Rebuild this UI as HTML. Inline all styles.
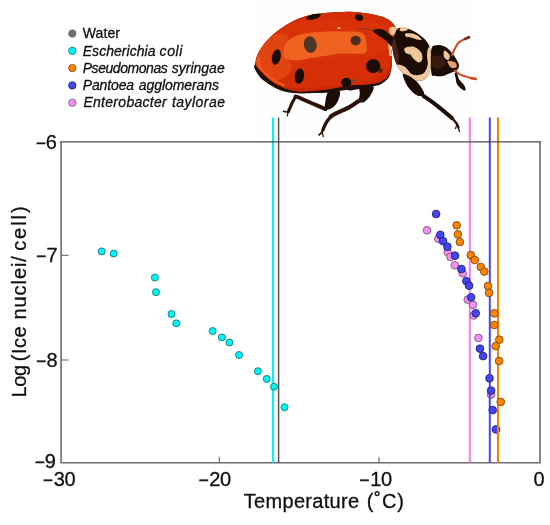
<!DOCTYPE html>
<html><head><meta charset="utf-8"><title>Ice nucleation</title>
<style>
html,body{margin:0;padding:0;background:#fff;}
svg{display:block;}
text{font-family:"Liberation Sans",sans-serif;fill:#111;stroke:#111;stroke-width:0.3px;}
</style></head><body>
<svg width="550" height="525" viewBox="0 0 550 525">
<rect width="550" height="525" fill="#ffffff"/>
<rect x="254" y="0" width="223" height="139" fill="#fefefe"/>
<path d="M61.1,141.4V462.8H540.0V141.4" fill="none" stroke="#6c6c6c" stroke-width="1.6"/>
<line x1="61.1" x2="68.6" y1="255.3" y2="255.3" stroke="#5a5a5a" stroke-width="1"/>
<line x1="61.1" x2="68.6" y1="360.0" y2="360.0" stroke="#5a5a5a" stroke-width="1"/>
<line x1="219.3" x2="219.3" y1="456.8" y2="462.8" stroke="#5a5a5a" stroke-width="1"/>
<line x1="379.0" x2="379.0" y1="456.8" y2="462.8" stroke="#5a5a5a" stroke-width="1"/>
<line x1="272.9" x2="272.9" y1="117.6" y2="462.8" stroke="#00f2f2" stroke-width="2.0"/>
<line x1="278.6" x2="278.6" y1="117.6" y2="462.8" stroke="#555555" stroke-width="1.5"/>
<circle cx="101.7" cy="251.4" r="3.50" fill="#00f5f5" stroke="#157878" stroke-width="0.9"/>
<circle cx="113.7" cy="253.5" r="3.50" fill="#00f5f5" stroke="#157878" stroke-width="0.9"/>
<circle cx="154.9" cy="277.6" r="3.50" fill="#00f5f5" stroke="#157878" stroke-width="0.9"/>
<circle cx="156.0" cy="292.2" r="3.50" fill="#00f5f5" stroke="#157878" stroke-width="0.9"/>
<circle cx="171.5" cy="314.0" r="3.50" fill="#00f5f5" stroke="#157878" stroke-width="0.9"/>
<circle cx="176.3" cy="323.4" r="3.50" fill="#00f5f5" stroke="#157878" stroke-width="0.9"/>
<circle cx="212.6" cy="331.0" r="3.50" fill="#00f5f5" stroke="#157878" stroke-width="0.9"/>
<circle cx="221.8" cy="337.4" r="3.50" fill="#00f5f5" stroke="#157878" stroke-width="0.9"/>
<circle cx="229.4" cy="342.5" r="3.50" fill="#00f5f5" stroke="#157878" stroke-width="0.9"/>
<circle cx="239.0" cy="355.0" r="3.50" fill="#00f5f5" stroke="#157878" stroke-width="0.9"/>
<circle cx="257.9" cy="371.2" r="3.50" fill="#00f5f5" stroke="#157878" stroke-width="0.9"/>
<circle cx="266.7" cy="378.9" r="3.50" fill="#00f5f5" stroke="#157878" stroke-width="0.9"/>
<circle cx="274.0" cy="386.7" r="3.50" fill="#00f5f5" stroke="#157878" stroke-width="0.9"/>
<circle cx="284.5" cy="407.2" r="3.50" fill="#00f5f5" stroke="#157878" stroke-width="0.9"/>
<line x1="469.8" x2="469.8" y1="117.6" y2="462.8" stroke="#f07ff0" stroke-width="2.0"/>
<circle cx="427.0" cy="230.3" r="3.85" fill="#f28ff2" stroke="#7a5a7a" stroke-width="0.9"/>
<circle cx="438.3" cy="238.7" r="3.85" fill="#f28ff2" stroke="#7a5a7a" stroke-width="0.9"/>
<circle cx="447.7" cy="252.0" r="3.85" fill="#f28ff2" stroke="#7a5a7a" stroke-width="0.9"/>
<circle cx="450.4" cy="257.0" r="3.85" fill="#f28ff2" stroke="#7a5a7a" stroke-width="0.9"/>
<circle cx="454.8" cy="265.3" r="3.85" fill="#f28ff2" stroke="#7a5a7a" stroke-width="0.9"/>
<circle cx="462.7" cy="273.3" r="3.85" fill="#f28ff2" stroke="#7a5a7a" stroke-width="0.9"/>
<circle cx="467.7" cy="299.6" r="3.85" fill="#f28ff2" stroke="#7a5a7a" stroke-width="0.9"/>
<circle cx="473.0" cy="304.8" r="3.85" fill="#f28ff2" stroke="#7a5a7a" stroke-width="0.9"/>
<circle cx="473.6" cy="315.5" r="3.85" fill="#f28ff2" stroke="#7a5a7a" stroke-width="0.9"/>
<circle cx="478.4" cy="337.9" r="3.85" fill="#f28ff2" stroke="#7a5a7a" stroke-width="0.9"/>
<circle cx="491.1" cy="394.6" r="3.85" fill="#f28ff2" stroke="#7a5a7a" stroke-width="0.9"/>
<line x1="489.8" x2="489.8" y1="117.6" y2="462.8" stroke="#4646f2" stroke-width="2.0"/>
<circle cx="436.1" cy="214.0" r="3.85" fill="#4444f0" stroke="#20207a" stroke-width="0.9"/>
<circle cx="440.3" cy="234.9" r="3.85" fill="#4444f0" stroke="#20207a" stroke-width="0.9"/>
<circle cx="443.0" cy="241.1" r="3.85" fill="#4444f0" stroke="#20207a" stroke-width="0.9"/>
<circle cx="447.4" cy="246.7" r="3.85" fill="#4444f0" stroke="#20207a" stroke-width="0.9"/>
<circle cx="455.0" cy="255.7" r="3.85" fill="#4444f0" stroke="#20207a" stroke-width="0.9"/>
<circle cx="461.4" cy="269.0" r="3.85" fill="#4444f0" stroke="#20207a" stroke-width="0.9"/>
<circle cx="466.4" cy="281.1" r="3.85" fill="#4444f0" stroke="#20207a" stroke-width="0.9"/>
<circle cx="469.1" cy="285.7" r="3.85" fill="#4444f0" stroke="#20207a" stroke-width="0.9"/>
<circle cx="471.1" cy="297.3" r="3.85" fill="#4444f0" stroke="#20207a" stroke-width="0.9"/>
<circle cx="475.7" cy="313.3" r="3.85" fill="#4444f0" stroke="#20207a" stroke-width="0.9"/>
<circle cx="480.0" cy="348.7" r="3.85" fill="#4444f0" stroke="#20207a" stroke-width="0.9"/>
<circle cx="483.1" cy="356.1" r="3.85" fill="#4444f0" stroke="#20207a" stroke-width="0.9"/>
<circle cx="489.5" cy="378.3" r="3.85" fill="#4444f0" stroke="#20207a" stroke-width="0.9"/>
<circle cx="491.1" cy="390.6" r="3.85" fill="#4444f0" stroke="#20207a" stroke-width="0.9"/>
<circle cx="492.7" cy="410.1" r="3.85" fill="#4444f0" stroke="#20207a" stroke-width="0.9"/>
<circle cx="496.0" cy="429.4" r="3.85" fill="#4444f0" stroke="#20207a" stroke-width="0.9"/>
<line x1="498.0" x2="498.0" y1="117.6" y2="462.8" stroke="#f58000" stroke-width="2.0"/>
<circle cx="456.7" cy="225.3" r="3.85" fill="#ff8200" stroke="#7a4a12" stroke-width="0.9"/>
<circle cx="457.9" cy="234.4" r="3.85" fill="#ff8200" stroke="#7a4a12" stroke-width="0.9"/>
<circle cx="459.9" cy="242.0" r="3.85" fill="#ff8200" stroke="#7a4a12" stroke-width="0.9"/>
<circle cx="470.8" cy="255.1" r="3.85" fill="#ff8200" stroke="#7a4a12" stroke-width="0.9"/>
<circle cx="474.8" cy="260.0" r="3.85" fill="#ff8200" stroke="#7a4a12" stroke-width="0.9"/>
<circle cx="480.8" cy="267.0" r="3.85" fill="#ff8200" stroke="#7a4a12" stroke-width="0.9"/>
<circle cx="484.3" cy="271.6" r="3.85" fill="#ff8200" stroke="#7a4a12" stroke-width="0.9"/>
<circle cx="488.0" cy="286.0" r="3.85" fill="#ff8200" stroke="#7a4a12" stroke-width="0.9"/>
<circle cx="489.1" cy="292.9" r="3.85" fill="#ff8200" stroke="#7a4a12" stroke-width="0.9"/>
<circle cx="494.4" cy="313.3" r="3.85" fill="#ff8200" stroke="#7a4a12" stroke-width="0.9"/>
<circle cx="494.3" cy="325.0" r="3.85" fill="#ff8200" stroke="#7a4a12" stroke-width="0.9"/>
<circle cx="499.3" cy="339.7" r="3.85" fill="#ff8200" stroke="#7a4a12" stroke-width="0.9"/>
<circle cx="495.7" cy="346.1" r="3.85" fill="#ff8200" stroke="#7a4a12" stroke-width="0.9"/>
<circle cx="499.1" cy="361.0" r="3.85" fill="#ff8200" stroke="#7a4a12" stroke-width="0.9"/>
<circle cx="500.7" cy="401.9" r="3.85" fill="#ff8200" stroke="#7a4a12" stroke-width="0.9"/>
<line x1="60.3" x2="540.8" y1="141.8" y2="141.8" stroke="#4c4c4c" stroke-width="1.3"/>
<text y="148.7" font-size="20"><tspan x="35.9" y="148.6" font-size="17" stroke-width="0.5">−</tspan><tspan x="45.8" y="148.7">6</tspan></text>
<text y="262.3" font-size="20"><tspan x="36.2" y="262.2" font-size="17" stroke-width="0.5">−</tspan><tspan x="46.6" y="262.3">7</tspan></text>
<text y="367.0" font-size="20"><tspan x="36.2" y="366.9" font-size="17" stroke-width="0.5">−</tspan><tspan x="46.6" y="367.0">8</tspan></text>
<text y="468.3" font-size="20"><tspan x="34.9" y="468.2" font-size="17" stroke-width="0.5">−</tspan><tspan x="44.8" y="468.3">9</tspan></text>
<text y="485.8" font-size="20"><tspan x="43.1" y="485.7" font-size="17" stroke-width="0.5">−</tspan><tspan x="53.7" y="485.8" textLength="22.0" lengthAdjust="spacing">30</tspan></text>
<text y="485.9" font-size="20"><tspan x="198.8" y="485.8" font-size="17" stroke-width="0.5">−</tspan><tspan x="209.2" y="485.9" textLength="22.0" lengthAdjust="spacing">20</tspan></text>
<text y="485.9" font-size="20"><tspan x="359.6" y="485.8" font-size="17" stroke-width="0.5">−</tspan><tspan x="370.2" y="485.9" textLength="22.0" lengthAdjust="spacing">10</tspan></text>
<text x="533.5" y="485.9" font-size="20" text-anchor="start" >0</text>
<text y="508.3" font-size="20"><tspan x="243.80" letter-spacing="0.300">Temperature</tspan> <tspan x="366.70" letter-spacing="0.967">(˚C)</tspan></text>
<g transform="translate(26.3,396) rotate(-90)">
<text y="0.0" font-size="20"><tspan x="-1.60" letter-spacing="-0.350">Log</tspan> <tspan x="34.80" letter-spacing="0.467">(Ice</tspan> <tspan x="76.40" letter-spacing="0.950">nuclei/</tspan> <tspan x="145.20" letter-spacing="1.925">cell)</tspan></text>
</g>
<circle cx="72.3" cy="33.5" r="3.7" fill="#6e6e6e" stroke="#6e6e6e" stroke-width="0.8"/>
<text y="38.4" font-size="14"><tspan x="82.80" letter-spacing="0.075">Water</tspan></text>
<circle cx="72.3" cy="50.8" r="3.7" fill="#00f5f5" stroke="#157878" stroke-width="0.8"/>
<text y="55.5" font-size="14" font-style="italic"><tspan x="82.70" letter-spacing="0.050">Escherichia</tspan> <tspan x="159.50" letter-spacing="0.633">coli</tspan></text>
<circle cx="72.3" cy="68.1" r="3.7" fill="#ff8200" stroke="#7a4a12" stroke-width="0.8"/>
<text y="72.6" font-size="14" font-style="italic"><tspan x="82.70" letter-spacing="-0.440">Pseudomonas</tspan> <tspan x="171.70" letter-spacing="0.014">syringae</tspan></text>
<circle cx="72.3" cy="85.4" r="3.7" fill="#4444f0" stroke="#20207a" stroke-width="0.8"/>
<text y="89.8" font-size="14" font-style="italic"><tspan x="82.70" letter-spacing="-0.117">Pantoea</tspan> <tspan x="138.80" letter-spacing="-0.070">agglomerans</tspan></text>
<circle cx="72.3" cy="102.7" r="3.7" fill="#f28ff2" stroke="#7a5a7a" stroke-width="0.8"/>
<text y="106.9" font-size="14" font-style="italic"><tspan x="83.40" letter-spacing="0.291">Enterobacter</tspan> <tspan x="171.90" letter-spacing="0.471">taylorae</tspan></text>
<g id="bug">
<path d="M255.5,63.0C256.0,60.9 256.1,58.1 257.3,55.2C258.5,52.3 260.7,48.7 262.9,45.7C265.1,42.7 267.5,40.0 270.5,37.1C273.5,34.2 277.2,31.3 281.0,28.6C284.8,25.9 289.3,23.0 293.3,21.0C297.3,19.0 300.4,17.7 304.8,16.4C309.2,15.1 314.9,14.1 320.0,13.4C325.1,12.7 330.1,12.5 335.2,12.2C340.3,11.9 345.4,11.5 350.5,11.7C355.6,11.9 360.8,12.6 365.7,13.3C370.6,14.0 375.8,15.0 379.6,16.1C383.4,17.2 386.3,18.3 388.7,19.8C391.1,21.3 392.6,23.2 394.0,24.9C395.4,26.6 397.1,28.3 397.0,30.2C396.9,32.0 394.5,33.5 393.5,36.0C392.5,38.5 391.1,41.6 390.8,45.0C390.6,48.4 391.9,52.6 392.0,56.4C392.1,60.2 391.9,64.5 391.4,67.9C390.9,71.3 390.3,74.6 389.0,77.0C387.7,79.4 385.5,81.1 383.5,82.5C381.5,83.9 380.5,84.6 377.0,85.6C373.5,86.5 367.0,87.4 362.7,88.2C358.4,89.0 354.0,90.1 351.0,90.4C348.0,90.7 348.7,89.8 344.5,90.2C340.3,90.6 332.1,92.3 326.0,92.8C319.9,93.3 312.3,93.1 308.0,93.2C303.7,93.3 303.4,93.6 300.0,93.4C296.6,93.2 291.3,92.9 287.7,92.2C284.1,91.5 282.1,91.0 278.6,89.5C275.2,88.0 270.2,85.2 267.0,83.0C263.8,80.8 261.2,78.6 259.1,76.0C257.0,73.4 254.8,69.8 254.2,67.6C253.6,65.4 255.0,65.1 255.5,63.0Z" fill="#24100a"/>
<path d="M255.5,63.0C255.5,60.9 256.1,58.1 257.3,55.2C258.5,52.3 260.7,48.7 262.9,45.7C265.1,42.7 267.5,40.0 270.5,37.1C273.5,34.2 277.2,31.3 281.0,28.6C284.8,25.9 289.3,23.0 293.3,21.0C297.3,19.0 300.4,17.7 304.8,16.4C309.2,15.1 314.9,14.1 320.0,13.4C325.1,12.7 330.1,12.5 335.2,12.2C340.3,11.9 345.4,11.5 350.5,11.7C355.6,11.9 360.8,12.6 365.7,13.3C370.6,14.0 375.8,15.0 379.6,16.1C383.4,17.2 386.3,18.3 388.7,19.8C391.1,21.3 392.6,23.2 394.0,24.9C395.4,26.6 397.1,28.3 397.0,30.2C396.9,32.0 394.5,33.5 393.5,36.0C392.5,38.5 391.1,41.6 390.8,45.0C390.6,48.4 391.9,52.6 392.0,56.4C392.1,60.2 392.1,64.7 391.4,67.9C390.7,71.2 389.4,73.8 388.0,75.9C386.6,78.0 384.8,79.1 383.0,80.3C381.2,81.5 380.4,82.2 377.0,83.0C373.6,83.8 367.0,84.4 362.7,84.8C358.4,85.2 354.0,85.0 351.0,85.2C348.0,85.4 347.2,85.7 344.5,86.2C341.8,86.7 338.1,87.4 335.0,88.0C331.9,88.6 330.5,89.0 326.0,89.6C321.5,90.1 313.1,91.1 308.0,91.3C302.9,91.5 299.6,91.5 295.7,90.9C291.8,90.4 288.1,89.4 284.3,88.0C280.5,86.6 276.1,84.4 272.9,82.3C269.7,80.2 267.5,77.9 264.9,75.4C262.3,73.0 259.1,69.7 257.5,67.6C255.9,65.5 255.5,65.1 255.5,63.0Z" fill="#d62e06"/>
<clipPath id="bc"><path d="M255.5,63.0C255.5,60.9 256.1,58.1 257.3,55.2C258.5,52.3 260.7,48.7 262.9,45.7C265.1,42.7 267.5,40.0 270.5,37.1C273.5,34.2 277.2,31.3 281.0,28.6C284.8,25.9 289.3,23.0 293.3,21.0C297.3,19.0 300.4,17.7 304.8,16.4C309.2,15.1 314.9,14.1 320.0,13.4C325.1,12.7 330.1,12.5 335.2,12.2C340.3,11.9 345.4,11.5 350.5,11.7C355.6,11.9 360.8,12.6 365.7,13.3C370.6,14.0 375.8,15.0 379.6,16.1C383.4,17.2 386.3,18.3 388.7,19.8C391.1,21.3 392.6,23.2 394.0,24.9C395.4,26.6 397.1,28.3 397.0,30.2C396.9,32.0 394.5,33.5 393.5,36.0C392.5,38.5 391.1,41.6 390.8,45.0C390.6,48.4 391.9,52.6 392.0,56.4C392.1,60.2 392.1,64.7 391.4,67.9C390.7,71.2 389.4,73.8 388.0,75.9C386.6,78.0 384.8,79.1 383.0,80.3C381.2,81.5 380.4,82.2 377.0,83.0C373.6,83.8 367.0,84.4 362.7,84.8C358.4,85.2 354.0,85.0 351.0,85.2C348.0,85.4 347.2,85.7 344.5,86.2C341.8,86.7 338.1,87.4 335.0,88.0C331.9,88.6 330.5,89.0 326.0,89.6C321.5,90.1 313.1,91.1 308.0,91.3C302.9,91.5 299.6,91.5 295.7,90.9C291.8,90.4 288.1,89.4 284.3,88.0C280.5,86.6 276.1,84.4 272.9,82.3C269.7,80.2 267.5,77.9 264.9,75.4C262.3,73.0 259.1,69.7 257.5,67.6C255.9,65.5 255.5,65.1 255.5,63.0Z"/></clipPath>
<g clip-path="url(#bc)">
<path d="M254.0,66.0C254.0,60.8 257.5,51.3 262.0,45.0C266.5,38.7 273.8,32.2 281.0,28.0C288.2,23.8 295.2,21.7 305.0,20.0C314.8,18.3 328.3,17.7 340.0,18.0C351.7,18.3 366.3,19.3 375.0,22.0C383.7,24.7 389.5,29.3 392.0,34.0C394.5,38.7 394.3,46.3 390.0,50.0C385.7,53.7 374.3,54.7 366.0,56.0C357.7,57.3 349.3,57.0 340.0,58.0C330.7,59.0 318.3,60.0 310.0,62.0C301.7,64.0 295.8,67.3 290.0,70.0C284.2,72.7 279.7,77.0 275.0,78.0C270.3,79.0 265.5,78.0 262.0,76.0C258.5,74.0 254.0,71.2 254.0,66.0Z" fill="#d93208"/>
<path d="M256.0,64.0C255.2,60.5 257.3,55.7 259.0,52.0C260.7,48.3 263.2,45.0 266.0,42.0C268.8,39.0 272.3,35.0 276.0,34.0C279.7,33.0 286.7,33.3 288.0,36.0C289.3,38.7 284.0,46.0 284.0,50.0C284.0,54.0 286.7,57.0 288.0,60.0C289.3,63.0 292.7,65.0 292.0,68.0C291.3,71.0 287.0,76.0 284.0,78.0C281.0,80.0 277.3,80.8 274.0,80.0C270.7,79.2 267.0,75.7 264.0,73.0C261.0,70.3 256.8,67.5 256.0,64.0Z" fill="#e2440f"/>
<path d="M283.5,50.0C283.8,47.3 285.2,43.9 287.0,41.7C288.8,39.5 291.3,38.3 294.0,37.0C296.7,35.7 298.7,34.5 303.0,33.7C307.3,32.9 313.8,32.4 320.0,32.0C326.2,31.6 333.0,31.2 340.0,31.4C347.0,31.6 357.6,30.9 362.0,33.0C366.4,35.1 366.0,40.7 366.5,44.0C367.0,47.3 367.8,51.4 365.0,53.0C362.2,54.6 354.2,53.4 350.0,53.5C345.8,53.6 343.7,53.2 340.0,53.5C336.3,53.8 332.7,54.7 328.0,55.4C323.3,56.1 317.2,56.8 312.0,57.7C306.8,58.6 301.5,60.6 297.0,60.6C292.5,60.6 287.2,59.8 285.0,58.0C282.8,56.2 283.2,52.7 283.5,50.0Z" fill="#f0621f"/>
<path d="M254.0,70.0C255.7,69.7 258.5,75.7 262.0,78.0C265.5,80.3 270.3,82.5 275.0,84.0C279.7,85.5 284.2,86.3 290.0,87.0C295.8,87.7 301.7,88.3 310.0,88.0C318.3,87.7 330.8,86.2 340.0,85.0C349.2,83.8 357.5,83.0 365.0,81.0C372.5,79.0 380.5,76.5 385.0,73.0C389.5,69.5 390.2,58.8 392.0,60.0C393.8,61.2 398.0,74.7 396.0,80.0C394.0,85.3 389.3,89.3 380.0,92.0C370.7,94.7 353.3,95.3 340.0,96.0C326.7,96.7 311.7,96.7 300.0,96.0C288.3,95.3 278.0,94.7 270.0,92.0C262.0,89.3 254.7,83.7 252.0,80.0C249.3,76.3 252.3,70.3 254.0,70.0Z" fill="#cd2804"/>
<path d="M258.5,58.0C258.7,59.3 258.3,63.4 259.5,66.0C260.7,68.6 263.2,71.2 265.5,73.5C267.8,75.8 270.4,78.0 273.5,80.0C276.6,82.0 282.2,84.6 284.0,85.5" fill="none" stroke="#ee5a1e" stroke-width="2.2" stroke-linecap="round"/>
<ellipse cx="339" cy="28" rx="2" ry="0.8" fill="#f8d0b0"/>
<path d="M387.8,41.0L391.6,41.0L392.5,56.0L389.5,56.0Z" fill="#efc79a"/>
<path d="M389.5,28.0C390.3,26.9 393.4,26.4 394.8,26.8C396.2,27.2 398.2,28.8 398.0,30.2C397.8,31.6 394.7,34.5 393.3,35.0C391.9,35.5 390.5,34.5 389.9,33.3C389.3,32.1 388.7,29.1 389.5,28.0Z" fill="#efc79a"/>
</g>
<ellipse cx="276.3" cy="57.0" rx="4.4" ry="7.8" transform="rotate(12 276.3 57.0)" fill="#1c0c06"/>
<ellipse cx="299.4" cy="76.2" rx="4.7" ry="7.7" transform="rotate(8 299.4 76.2)" fill="#1c0c06"/>
<ellipse cx="310.3" cy="44.6" rx="6.4" ry="8.3" transform="rotate(-10 310.3 44.6)" fill="#4e3628"/>
<ellipse cx="313.5" cy="16.8" rx="7.5" ry="2.6" transform="rotate(-14 313.5 16.8)" fill="#1c0c06"/>
<ellipse cx="359.0" cy="17.5" rx="4.3" ry="3.2" transform="rotate(20 359.0 17.5)" fill="#1c0c06"/>
<ellipse cx="355.6" cy="40.6" rx="5.2" ry="4.8" transform="rotate(0 355.6 40.6)" fill="#4e2c1c"/>
<ellipse cx="373.2" cy="66.1" rx="7.2" ry="7.1" transform="rotate(0 373.2 66.1)" fill="#1c0c06"/>
<ellipse cx="346.3" cy="82.8" rx="5.0" ry="5.0" transform="rotate(0 346.3 82.8)" fill="#1c0c06"/>
<ellipse cx="353.5" cy="80.6" rx="2.6" ry="1.3" transform="rotate(0 353.5 80.6)" fill="#6a4a38"/>
<ellipse cx="380.5" cy="70.5" rx="2.2" ry="2.6" transform="rotate(0 380.5 70.5)" fill="#4a2410"/>
<path d="M359.4,28.4C360.7,28.5 364.4,28.9 367.0,29.3C369.6,29.7 373.7,30.3 375.0,30.5" fill="none" stroke="#7a3c1c" stroke-width="1.2"/>
<path d="M373.0,30.2C373.8,29.5 377.6,29.0 379.6,29.1C381.6,29.2 383.2,29.6 385.0,30.6C386.8,31.6 388.6,34.1 390.3,35.3C392.0,36.5 393.7,36.9 395.0,38.0C396.3,39.1 398.5,40.6 398.0,42.0C397.5,43.4 393.9,46.7 392.0,46.5C390.1,46.3 388.2,42.6 386.4,41.0C384.6,39.4 382.9,38.3 381.0,37.0C379.1,35.7 376.3,34.4 375.0,33.3C373.7,32.2 372.2,30.9 373.0,30.2Z" fill="#1c0c06"/>
<path d="M399.0,28.1C401.2,27.5 405.4,28.1 408.6,29.0C411.8,29.9 415.0,31.7 418.0,33.8C421.0,35.9 424.6,38.7 426.7,41.4C428.8,44.1 429.8,46.4 430.5,50.0C431.2,53.6 431.3,59.2 431.0,63.3C430.7,67.4 430.1,71.9 428.6,74.8C427.1,77.7 424.7,79.7 422.0,80.5C419.3,81.3 415.6,80.8 412.4,79.5C409.2,78.2 405.5,75.3 402.9,72.9C400.3,70.5 398.6,68.4 397.0,65.2C395.4,62.0 394.1,57.6 393.3,53.8C392.5,50.0 392.1,45.9 392.4,42.4C392.7,38.9 394.1,35.3 395.2,32.9C396.3,30.5 396.8,28.8 399.0,28.1Z" fill="#1c0c06"/>
<clipPath id="pc"><path d="M399.0,28.1C401.2,27.5 405.4,28.1 408.6,29.0C411.8,29.9 415.0,31.7 418.0,33.8C421.0,35.9 424.6,38.7 426.7,41.4C428.8,44.1 429.8,46.4 430.5,50.0C431.2,53.6 431.3,59.2 431.0,63.3C430.7,67.4 430.1,71.9 428.6,74.8C427.1,77.7 424.7,79.7 422.0,80.5C419.3,81.3 415.6,80.8 412.4,79.5C409.2,78.2 405.5,75.3 402.9,72.9C400.3,70.5 398.6,68.4 397.0,65.2C395.4,62.0 394.1,57.6 393.3,53.8C392.5,50.0 392.1,45.9 392.4,42.4C392.7,38.9 394.1,35.3 395.2,32.9C396.3,30.5 396.8,28.8 399.0,28.1Z"/></clipPath>
<g clip-path="url(#pc)">
<path d="M405.5,33.6C406.5,33.1 409.9,33.2 412.0,33.6C414.1,34.0 416.4,34.8 418.0,35.8C419.6,36.8 421.7,39.2 421.5,39.8C421.3,40.4 418.8,40.0 417.0,39.6C415.2,39.2 412.8,38.1 411.0,37.6C409.2,37.1 406.9,37.5 406.0,36.8C405.1,36.1 404.5,34.1 405.5,33.6Z" fill="#efc79a"/>
<path d="M404.8,48.1C406.0,47.0 410.6,45.9 413.3,46.6C416.0,47.3 419.5,50.2 421.0,52.3C422.4,54.4 422.7,57.4 422.3,59.1C421.9,60.9 420.2,62.7 418.7,62.6C417.2,62.5 414.7,59.9 413.3,58.6C412.0,57.3 411.7,55.7 410.5,54.8C409.2,53.8 406.7,54.0 405.7,52.9C404.8,51.7 403.5,49.1 404.8,48.1Z" fill="#efc79a"/>
<path d="M397.1,64.3C398.7,64.2 402.2,65.1 404.8,66.8C407.3,68.4 409.4,73.2 412.4,74.4C415.4,75.6 420.3,75.3 422.9,73.8C425.4,72.3 426.9,68.3 427.6,65.2C428.3,62.2 427.0,58.6 427.0,55.7C427.1,52.9 427.5,49.5 428.2,48.1C428.9,46.7 430.6,45.6 431.4,47.1C432.2,48.7 432.7,54.3 433.0,57.6C433.2,61.0 433.2,64.1 433.0,67.1C432.7,70.2 433.0,73.0 431.4,75.7C429.9,78.4 427.0,82.2 423.8,83.3C420.6,84.4 416.0,83.7 412.4,82.4C408.7,81.1 404.8,78.3 401.9,75.7C399.0,73.2 396.0,69.0 395.2,67.1C394.4,65.2 395.6,64.3 397.1,64.3Z" fill="#efc79a"/>
<path d="M391.4,38.6C392.1,37.3 394.3,38.9 395.2,40.5C396.2,42.1 396.5,45.2 397.1,48.1C397.8,51.0 399.0,54.8 399.0,57.6C399.0,60.5 398.1,65.2 397.1,65.2C396.2,65.2 394.3,60.5 393.3,57.6C392.4,54.8 391.7,51.3 391.4,48.1C391.1,44.9 390.8,39.8 391.4,38.6Z" fill="#4a2416"/>
</g>
<path d="M399.5,29.5C399.7,28.9 400.9,27.7 402.0,27.3C403.1,26.9 405.0,26.9 406.0,27.2C407.0,27.5 408.2,28.7 408.0,29.3C407.8,29.9 406.2,30.7 405.0,31.0C403.8,31.3 401.9,31.4 401.0,31.2C400.1,30.9 399.3,30.1 399.5,29.5Z" fill="#efc79a"/>
<path d="M431.4,49.0C432.4,44.4 434.9,45.7 437.1,45.2C439.4,44.8 442.4,45.4 444.8,46.6C447.1,47.7 449.5,50.2 451.4,52.3C453.3,54.4 454.9,56.9 456.2,59.1C457.5,61.4 459.0,63.7 459.0,65.6C459.1,67.5 458.0,69.4 456.6,70.6C455.1,71.8 452.8,72.0 450.5,72.9C448.2,73.7 445.4,75.4 442.9,75.9C440.3,76.4 437.1,76.3 435.2,75.9C433.3,75.5 432.1,77.7 431.4,73.2C430.8,68.8 430.5,53.7 431.4,49.0Z" fill="#1c0c06"/>
<path d="M444.4,50.6C445.3,50.3 449.1,53.8 449.7,55.3C450.3,56.9 449.1,59.7 448.2,59.9C447.2,60.2 444.6,58.4 444.0,56.9C443.4,55.3 443.4,50.8 444.4,50.6Z" fill="#efc79a"/>
<path d="M447.6,61.0C448.3,60.2 453.7,61.4 455.2,62.4C456.7,63.4 457.3,66.3 456.6,67.1C455.8,68.0 452.3,68.5 450.9,67.5C449.4,66.5 446.9,61.9 447.6,61.0Z" fill="#e0a070"/>
<path d="M433.3,55.7C435.1,54.4 441.0,56.0 442.9,57.6C444.8,59.2 445.7,63.3 444.8,65.2C443.8,67.1 439.2,69.0 437.1,69.0C435.1,69.0 433.0,67.5 432.4,65.2C431.7,63.0 431.6,57.0 433.3,55.7Z" fill="#3a1a10"/>
<path d="M452.0,55.0C452.4,54.0 453.6,51.1 454.7,49.0C455.7,47.0 457.0,44.3 458.5,42.8C460.0,41.2 462.0,40.4 463.8,39.5C465.6,38.6 468.3,37.6 469.1,37.2" fill="none" stroke="#d04a20" stroke-width="2.1" stroke-linecap="round"/>
<path d="M465.3,38.8C466.0,38.5 468.5,37.5 469.1,37.2" fill="none" stroke="#7a2a14" stroke-width="2.6" stroke-linecap="round"/>
<path d="M454.7,70.6C455.6,71.2 457.7,73.2 460.0,74.4C462.3,75.5 465.9,76.7 468.6,77.4C471.2,78.2 474.6,78.7 475.8,79.0" fill="none" stroke="#d04a20" stroke-width="2.0" stroke-linecap="round"/>
<path d="M470.5,78.0C471.4,78.2 474.9,78.8 475.8,79.0" fill="none" stroke="#d04a20" stroke-width="2.6" stroke-linecap="round"/>
<path d="M454.7,73.4C454.9,72.5 456.2,72.2 457.0,73.2C457.7,74.3 458.0,77.5 459.2,79.5C460.4,81.5 463.1,83.5 464.2,85.2C465.2,87.0 465.9,89.5 465.5,90.2C465.1,90.9 463.3,90.2 461.9,89.2C460.5,88.3 458.0,86.1 457.0,84.3C455.9,82.5 456.2,80.4 455.8,78.6C455.4,76.8 454.5,74.3 454.7,73.4Z" fill="#1c0c06"/>
<path d="M402.7,74.5C402.7,76.5 405.8,83.8 408.2,87.3C410.6,90.8 414.6,94.3 417.3,95.5C419.9,96.6 423.7,95.8 424.2,94.2C424.6,92.5 421.8,88.0 420.0,85.5C418.2,82.9 415.6,80.8 413.6,79.1C411.7,77.4 410.0,76.2 408.2,75.5C406.4,74.7 402.7,72.6 402.7,74.5Z" fill="#1c0c06"/>
<path d="M423.5,96.0C425.8,97.6 432.5,102.1 437.3,105.8C442.1,109.5 449.7,116.1 452.2,118.2" fill="none" stroke="#1c0c06" stroke-width="4.0" stroke-linecap="round"/>
<path d="M452.2,118.2C453.0,119.2 455.9,122.4 456.9,124.0C457.9,125.6 458.1,127.0 458.4,127.6" fill="none" stroke="#2c130a" stroke-width="2.4" stroke-linecap="round"/>
<path d="M458.4,127.6C458.5,128.3 459.3,131.0 459.5,131.6" fill="none" stroke="#2c130a" stroke-width="1.3" stroke-linecap="round"/>
<path d="M456.5,125.5C456.4,126.0 455.6,128.2 455.5,128.7" fill="none" stroke="#2c130a" stroke-width="1.2" stroke-linecap="round"/>
<path d="M360.5,86.7C362.8,85.5 371.6,84.9 373.3,86.4C374.9,87.8 371.9,92.8 370.4,95.5C368.8,98.1 366.1,101.0 364.2,102.0C362.3,103.0 359.8,102.7 359.1,101.3C358.4,99.9 359.6,96.1 359.8,93.6C360.1,91.2 358.3,87.9 360.5,86.7Z" fill="#1c0c06"/>
<path d="M361.5,99.3C359.4,100.6 353.3,105.0 349.1,107.3C344.9,109.6 339.4,111.6 336.4,113.1C333.3,114.6 331.8,115.8 330.9,116.4" fill="none" stroke="#2c130a" stroke-width="4.2" stroke-linecap="round" stroke-linejoin="round"/>
<path d="M330.9,116.4C330.1,117.5 327.2,121.0 325.8,123.3C324.5,125.5 323.4,128.9 322.9,130.0" fill="none" stroke="#2c130a" stroke-width="3.4" stroke-linecap="round" stroke-linejoin="round"/>
<path d="M322.9,130.0C322.6,130.5 321.8,132.3 321.1,133.1C320.4,133.9 319.3,134.6 318.9,134.9" fill="none" stroke="#2c130a" stroke-width="1.8" stroke-linecap="round" stroke-linejoin="round"/>
<path d="M322.2,131.8C322.4,132.6 323.1,135.9 323.3,136.7" fill="none" stroke="#2c130a" stroke-width="1.2" stroke-linecap="round" stroke-linejoin="round"/>
<path d="M328.9,91.1C331.3,89.3 337.9,89.6 339.5,91.1C341.0,92.6 339.5,97.3 338.4,100.0C337.3,102.7 335.0,105.9 332.9,107.5C330.8,109.0 326.9,110.2 325.6,109.3C324.4,108.4 324.7,105.0 325.3,102.0C325.8,99.0 326.5,92.9 328.9,91.1Z" fill="#1c0c06"/>
<path d="M325.5,109.1C323.9,108.4 319.4,106.4 316.4,105.1C313.3,103.8 310.3,102.6 307.3,101.3C304.2,100.0 300.1,98.1 298.2,97.3C296.2,96.5 296.1,96.7 295.6,96.5" fill="none" stroke="#2c130a" stroke-width="3.9" stroke-linecap="round" stroke-linejoin="round"/>
<path d="M295.6,96.5C295.2,97.4 293.6,100.0 292.7,101.8C291.8,103.6 290.9,105.6 290.2,107.3C289.5,108.9 288.7,110.9 288.4,111.6" fill="none" stroke="#2c130a" stroke-width="3.1" stroke-linecap="round" stroke-linejoin="round"/>
<path d="M288.4,111.6C288.0,111.7 287.0,112.1 286.2,112.0C285.4,111.9 284.1,111.4 283.6,111.3" fill="none" stroke="#2c130a" stroke-width="1.7" stroke-linecap="round" stroke-linejoin="round"/>
<path d="M288.0,112.4C287.9,113.0 287.4,115.4 287.3,116.0" fill="none" stroke="#2c130a" stroke-width="1.2" stroke-linecap="round" stroke-linejoin="round"/>
</g>
</svg>
</body></html>
